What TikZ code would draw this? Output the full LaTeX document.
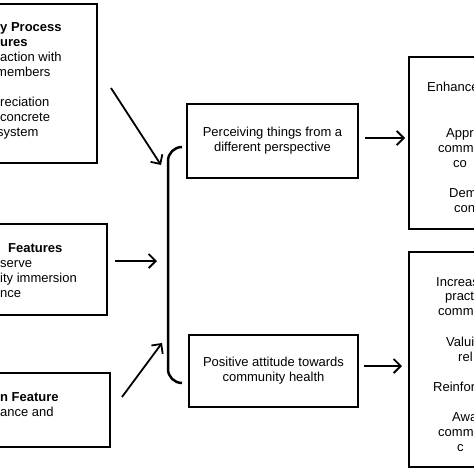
\documentclass[tikz,border=0pt]{standalone}
\usepackage{fontspec}
\setmainfont{Liberation Sans}
\usetikzlibrary{arrows.meta}

\begin{document}
\begin{tikzpicture}[x=1pt,y=-1pt,
  box/.style={draw,line width=2.5pt,inner sep=0pt},
  arr/.style={-{Straight Barb[length=7pt,width=14pt]},line width=1.8pt},
  txt/.style={inner sep=0pt,font=\fontsize{13}{15}\selectfont},
  frag/.style={txt,anchor=base west}]
\useasboundingbox (0,0) rectangle (474,474);
\clip (0,0) rectangle (474,474);
% left column (cut by the left edge)
\node[box,minimum width=177pt,minimum height=159pt] (proc) at (8.5,83.5) {};
\node[box,minimum width=187pt,minimum height=91pt] (serv) at (13.5,269.5) {};
\node[box,minimum width=190pt,minimum height=74pt] (guid) at (15,410) {};
% multi-line texts sit on the baseline of their last line
\node[frag,align=left] (proctxt) at (0,136) {\textbf{y Process}\\\textbf{ures}\\action with\\\hspace*{-4pt}members\\[15pt]reciation\\concrete\\\hspace*{-3pt}system};
\node[frag,align=left] (servtxt) at (0,297) {\hspace*{8pt}\textbf{Features}\\serve\\ity immersion\\nce};
\node[frag,align=left] (guidtxt) at (0,416) {\textbf{n Feature}\\ance and};
% middle column
\node[box,txt,align=center,minimum width=171pt,minimum height=74pt] (perc) at (272.5,141) {Perceiving things from a\\different perspective};
\node[box,txt,align=center,minimum width=169pt,minimum height=72pt] (posi) at (273.5,371) {Positive attitude towards\\community health};
% right column (cut by the right edge)
\node[box,minimum width=151pt,minimum height=172pt] (enh) at (484.5,143) {};
\node[box,minimum width=151pt,minimum height=215pt] (inc) at (484.5,359.5) {};
\node[frag] (e1) at (427,91) {Enhance};
\node[frag] (e2) at (446,137) {Appr};
\node[frag] (e3) at (438,152) {comm};
\node[frag] (e4) at (453,167) {co};
\node[frag] (e5) at (449,197) {Dem};
\node[frag] (e6) at (454,212) {con};
\node[frag] (i1) at (436,286) {Increas};
\node[frag] (i2) at (445,300) {pract};
\node[frag] (i3) at (438,315) {comm};
\node[frag] (i4) at (446,346) {Valui};
\node[frag] (i5) at (458,361) {rel};
\node[frag] (i6) at (433,391) {Reinfor};
\node[frag] (i7) at (452,421) {Awa};
\node[frag] (i8) at (438,436) {comm};
\node[frag] (i9) at (457,451) {c};
% bracket
\coordinate (brtop) at (182,147);
\coordinate (brbot) at (182,383);
\draw[line width=2.5pt,rounded corners=14pt] (brtop) -- (168,147) -- (168,383) -- (brbot);
% arrows
\coordinate (a1s) at (111,88);  \coordinate (a1e) at (161,165);
\coordinate (a2s) at (115,261); \coordinate (a2e) at (157,261);
\coordinate (a3s) at (122,397); \coordinate (a3e) at (162,343);
\coordinate (a4s) at (365,138); \coordinate (a4e) at (405,138);
\coordinate (a5s) at (364,366); \coordinate (a5e) at (402,366);
\draw[arr] (a1s) -- (a1e);
\draw[arr] (a2s) -- (a2e);
\draw[arr] (a3s) -- (a3e);
\draw[arr] (a4s) -- (a4e);
\draw[arr] (a5s) -- (a5e);
\end{tikzpicture}
\end{document}
